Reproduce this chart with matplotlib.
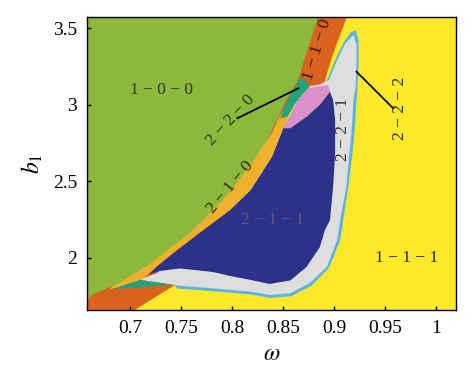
import matplotlib
matplotlib.use("Agg")
import matplotlib.pyplot as plt

plt.rcParams['font.family'] = ['Liberation Serif', 'DejaVu Serif']
plt.rcParams['mathtext.fontset'] = 'stix'

# ---------------- data (omega, b1) ----------------
XLIM = (0.6575, 1.0196)
YLIM = (1.66, 3.572)
XTICKS = [0.7, 0.75, 0.8, 0.85, 0.9, 0.95, 1.0]
XTICKLABELS = ['0.7', '0.75', '0.8', '0.85', '0.9', '0.95', '1']
YTICKS = [2.0, 2.5, 3.0, 3.5]
YTICKLABELS = ['2', '2.5', '3', '3.5']

# 1-0-0 region boundary (green)
GREEN_OMEGA = [0.884, 0.873, 0.864, 0.852, 0.837, 0.816, 0.790, 0.757, 0.723, 0.716, 0.687, 0.664, 0.6575]
GREEN_B1 = [3.574, 3.356, 3.161, 3.030, 2.813, 2.595, 2.378, 2.161, 1.987, 1.950, 1.835, 1.769, 1.737]

# 1-1-0 region (orange)
ORANGE_OMEGA = [0.913, 0.904, 0.898, 0.893, 0.891, 0.870, 0.800, 0.760, 0.744, 0.703, 0.640, 0.640]
ORANGE_B1 = [3.580, 3.422, 3.313, 3.205, 3.150, 2.950, 2.300, 1.950, 1.824, 1.655, 1.655, 3.580]

# 2-2-2 region (light blue rim)
BLUE_OMEGA = [0.921, 0.924, 0.924, 0.923, 0.922, 0.920, 0.918, 0.914, 0.909, 0.906, 0.895, 0.878,
              0.858, 0.837, 0.818, 0.782, 0.746, 0.740, 0.800, 0.870, 0.893, 0.901, 0.909, 0.916]
BLUE_B1 = [3.487, 3.422, 3.272, 3.115, 3.030, 2.815, 2.685, 2.463, 2.248, 2.117, 1.935, 1.820,
           1.750, 1.739, 1.762, 1.782, 1.800, 1.850, 2.300, 2.950, 3.161, 3.291, 3.402, 3.470]

# 2-2-1 region (light gray)
GRAY_OMEGA = [0.919, 0.922, 0.922, 0.921, 0.919, 0.917, 0.915, 0.912, 0.906, 0.903, 0.893, 0.876,
              0.857, 0.837, 0.818, 0.782, 0.746, 0.729, 0.710, 0.713, 0.726, 0.800, 0.865, 0.872,
              0.885, 0.895, 0.903, 0.911]
GRAY_B1 = [3.454, 3.389, 3.272, 3.115, 3.030, 2.815, 2.685, 2.463, 2.248, 2.117, 1.943, 1.835,
           1.769, 1.758, 1.780, 1.801, 1.820, 1.837, 1.856, 1.869, 1.900, 2.300, 3.050, 3.118,
           3.130, 3.161, 3.291, 3.400]

# 2-1-1 region (navy)
NAVY_OMEGA = [0.896, 0.899, 0.901, 0.901, 0.899, 0.896, 0.891, 0.886, 0.873, 0.857, 0.837, 0.818,
              0.798, 0.781, 0.749, 0.729, 0.717, 0.727, 0.746, 0.769, 0.798, 0.818, 0.839, 0.850,
              0.857, 0.865, 0.885]
NAVY_B1 = [3.084, 3.030, 2.900, 2.685, 2.463, 2.248, 2.182, 2.071, 1.941, 1.853, 1.830, 1.856,
           1.882, 1.908, 1.931, 1.915, 1.889, 1.950, 2.052, 2.169, 2.313, 2.443, 2.660, 2.846,
           2.921, 3.030, 3.100]

# 2-1-0 region (yellow-orange band)
BAND_OMEGA = [0.861, 0.850, 0.839, 0.818, 0.798, 0.769, 0.746, 0.727, 0.717, 0.710, 0.682, 0.680,
              0.718, 0.752, 0.786, 0.814, 0.839, 0.846, 0.852]
BAND_B1 = [2.987, 2.846, 2.660, 2.443, 2.313, 2.169, 2.052, 1.950, 1.889, 1.856, 1.796, 1.800,
           1.987, 2.161, 2.378, 2.595, 2.813, 2.920, 2.980]

# 2-2-0 regions (teal)
TEAL_LOW_OMEGA = [0.682, 0.710, 0.742]
TEAL_LOW_B1 = [1.796, 1.856, 1.825]
TEAL_TOP_OMEGA = [0.870, 0.876, 0.871, 0.862, 0.854, 0.847, 0.854, 0.862, 0.865]
TEAL_TOP_B1 = [3.175, 3.117, 3.084, 3.009, 2.921, 2.913, 3.030, 3.117, 3.161]

# pink region
PINK_OMEGA = [0.894, 0.873, 0.863, 0.857, 0.850, 0.857, 0.873, 0.886, 0.896]
PINK_B1 = [3.128, 3.107, 3.009, 2.921, 2.846, 2.846, 2.921, 2.998, 3.084]

# annotation leader lines
LINE220_OMEGA = [0.805, 0.865]
LINE220_B1 = [2.911, 3.107]
LINE222_OMEGA = [0.922, 0.958]
LINE222_B1 = [3.215, 2.976]

LABELS = ['1 − 0 − 0', '1 − 1 − 0', '2 − 2 − 0', '2 − 1 − 0', '2 − 1 − 1',
          '2 − 2 − 1', '2 − 2 − 2', '1 − 1 − 1']
LABEL_OMEGA = [0.731, 0.884, 0.798, 0.798, 0.840, 0.909, 0.965, 0.971]
LABEL_B1 = [3.096, 3.356, 2.900, 2.463, 2.248, 2.841, 2.976, 1.998]
LABEL_ROT = [0, 73, 47, 50, 0, 90, 90, 0]
LABEL_COLOR = ['#2e3a22', '#2a1a10', '#1e3a22', '#2e2a10', '#5a5a7e', '#333333', '#2a2a10', '#2a2a10']

C_YELLOW = '#fde92a'
C_GREEN = '#8cb83c'
C_ORANGE = '#d8621e'
C_BLUE = '#5ab4e4'
C_GRAY = '#dedede'
C_NAVY = '#2c3289'
C_BAND = '#eeb12c'
C_TEAL = '#1fa579'
C_PINK = '#dc90c8'

# ---------------- figure ----------------
fig = plt.figure(figsize=(4.74, 3.78), dpi=100)
ax = fig.add_axes([87 / 474, 1 - 310 / 378, (456 - 87) / 474, (310 - 17) / 378])
ax.set_facecolor(C_YELLOW)

ax.fill(ORANGE_OMEGA, ORANGE_B1, color=C_ORANGE, lw=0)
ax.fill(BLUE_OMEGA, BLUE_B1, color=C_BLUE, lw=0)
ax.fill(GRAY_OMEGA, GRAY_B1, color=C_GRAY, lw=0)
ax.fill(NAVY_OMEGA, NAVY_B1, color=C_NAVY, lw=0)
ax.fill(BAND_OMEGA, BAND_B1, color=C_BAND, lw=0)
ax.fill(PINK_OMEGA, PINK_B1, color=C_PINK, lw=0)
ax.fill(TEAL_LOW_OMEGA, TEAL_LOW_B1, color=C_TEAL, lw=0)
ax.fill(TEAL_TOP_OMEGA, TEAL_TOP_B1, color=C_TEAL, lw=0)
ax.fill_betweenx(GREEN_B1, XLIM[0] - 0.02, GREEN_OMEGA, color=C_GREEN, lw=0)

ax.plot(LINE220_OMEGA, LINE220_B1, color='black', lw=1.3)
ax.plot(LINE222_OMEGA, LINE222_B1, color='black', lw=1.3)

for txt, x, y, r, c in zip(LABELS, LABEL_OMEGA, LABEL_B1, LABEL_ROT, LABEL_COLOR):
    ax.text(x, y, txt, rotation=r, color=c, fontsize=12.5, ha='center', va='center',
            rotation_mode='anchor')

ax.set_xlim(*XLIM)
ax.set_ylim(*YLIM)
ax.set_xticks(XTICKS)
ax.set_xticklabels(XTICKLABELS)
ax.set_yticks(YTICKS)
ax.set_yticklabels(YTICKLABELS)
ax.tick_params(direction='in', length=3, width=1, labelsize=14, top=False, right=False)
ax.tick_params(axis='x', pad=7)
ax.tick_params(axis='y', pad=7)
for s in ax.spines.values():
    s.set_linewidth(1.0)

ax.set_xlabel(r'$\omega$', fontsize=17, labelpad=5)
ax.set_ylabel(r'$b_1$', fontsize=17, labelpad=6)

fig.savefig('out.png', dpi=100)
